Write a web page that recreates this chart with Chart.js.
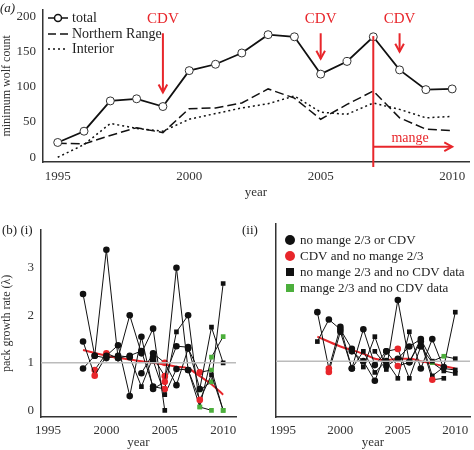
<!DOCTYPE html>
<html>
<head>
<meta charset="utf-8">
<script src="https://cdn.jsdelivr.net/npm/chart.js@4"></script>
<style>
body { margin: 0; background: #fff; }
.box { position: absolute; }
</style>
</head>
<body>
<div class="box" style="left:0;top:0;width:474px;height:200px"><canvas id="top"></canvas></div>
<div class="box" style="left:0;top:220px;width:240px;height:230px"><canvas id="b1"></canvas></div>
<div class="box" style="left:240px;top:220px;width:234px;height:230px"><canvas id="b2"></canvas></div>
<script>
// panel (a)
const years = [1995, 1996, 1997, 1998, 1999, 2000, 2001, 2002, 2003, 2004, 2005, 2006, 2007, 2008, 2009, 2010];
const total = [21, 37, 80, 83, 72, 123, 132, 148, 174, 171, 118, 136, 171, 124, 96, 97];
const northern = [20, 19, 31, 42, 35, 69, 70, 77, 97, 84, 54, 75, 94, 56, 40, 38];
const interior = [0, 18, 48, 41, 37, 54, 62, 70, 76, 87, 64, 61, 77, 68, 56, 58];
const cdvYears = [1999, 2005, 2008];
const cdvTips = [92, 140, 150];
const mangeYear = 2007;

// panel (b): [year, lambda, type]  c=no mange/CDV, r=CDV, s=no CDV data, g=mange no CDV data
const packsI = [
  [[1998,2.45,'c'],[1999,1.15,'c'],[2000,3.38,'c'],[2001,1.1,'c'],[2002,2.0,'c'],[2003,1.2,'c'],[2004,1.72,'c'],[2005,0.0,'s']],
  [[1998,1.45,'c'],[1999,0.73,'r'],[2000,1.15,'c'],[2001,1.37,'c'],[2002,0.3,'c'],[2003,1.55,'c'],[2004,0.45,'c'],[2005,0.6,'r'],[2006,3.0,'c'],[2007,0.85,'c'],[2008,0.22,'r'],[2009,0.75,'s'],[2010,0.0,'g']],
  [[1998,0.88,'c'],[1999,1.15,'c'],[2000,1.1,'c'],[2001,1.15,'c'],[2002,1.12,'c'],[2003,0.5,'s'],[2004,1.12,'c'],[2005,0.72,'r'],[2006,1.35,'c'],[2007,1.33,'c'],[2008,0.45,'c'],[2009,1.75,'s'],[2010,1.0,'s']],
  [[1999,0.85,'r'],[2000,1.2,'r'],[2001,1.1,'c'],[2002,1.15,'c'],[2003,1.25,'c'],[2004,0.5,'c'],[2005,0.45,'r'],[2006,1.65,'s'],[2007,2.0,'c'],[2008,0.07,'g'],[2009,0.0,'g']],
  [[2003,0.78,'c'],[2004,1.2,'c'],[2005,1.0,'r'],[2006,0.53,'c'],[2007,1.3,'c'],[2008,0.8,'r'],[2009,0.85,'g'],[2010,0.0,'g']],
  [[2004,1.05,'c'],[2005,0.33,'s'],[2006,0.87,'c'],[2007,0.85,'c'],[2008,0.07,'g'],[2009,1.12,'g'],[2010,1.55,'g']],
  [[2008,0.43,'g'],[2009,0.6,'g'],[2010,2.67,'s']]
];
const trendI = [[1998,1.27],[2000,1.15],[2002,1.07],[2004,1.0],[2006,0.92],[2007,0.88],[2008,0.72],[2009,0.55],[2010,0.33]];

const packsII = [
  [[1998,2.0,'c'],[1999,0.85,'r'],[2000,1.7,'c'],[2001,0.85,'c'],[2002,1.65,'c'],[2003,0.92,'c'],[2004,1.2,'c'],[2005,0.9,'r'],[2006,0.98,'c'],[2007,1.4,'c'],[2008,0.62,'r'],[2009,0.65,'s']],
  [[1998,1.4,'s'],[1999,1.85,'c'],[2000,1.65,'c'],[2001,1.25,'c'],[2002,0.88,'s'],[2003,1.5,'s'],[2004,0.83,'s'],[2005,2.25,'c'],[2006,0.98,'c'],[2007,1.45,'c'],[2008,1.0,'s'],[2009,1.1,'g'],[2010,1.05,'s']],
  [[1999,0.78,'r'],[2000,1.6,'c'],[2001,0.85,'c'],[2002,1.2,'s'],[2003,0.77,'s'],[2004,1.0,'c'],[2005,0.65,'s'],[2006,1.6,'s'],[2007,0.85,'c'],[2008,1.45,'c'],[2009,0.85,'s'],[2010,0.82,'s']],
  [[2001,1.2,'c'],[2002,1.0,'c'],[2003,0.6,'c'],[2004,1.2,'c'],[2005,1.25,'r'],[2006,0.65,'s'],[2007,1.3,'c'],[2008,0.97,'g'],[2009,0.8,'s'],[2010,0.75,'s']],
  [[2003,1.2,'s'],[2004,0.9,'c'],[2005,1.05,'c'],[2006,1.3,'c'],[2007,1.45,'s'],[2008,0.7,'s'],[2009,0.88,'c'],[2010,2.0,'s']]
];
const trendII = [[1998,1.5],[2000,1.3],[2002,1.15],[2003,1.05],[2004,1.02],[2005,1.05],[2006,1.05],[2007,1.0],[2008,0.95],[2010,0.85]];

const legendLabels = ['no mange 2/3 or CDV', 'CDV and no mange 2/3', 'no mange 2/3 and no CDV data', 'mange 2/3 and no CDV data'];
const legendTypes = ['c', 'r', 's', 'g'];

const FONT = 'Liberation Serif';
const RED = '#e8262b';
const typeColor = { c: '#111', r: RED, s: '#111', g: '#4caf3c' };
const typeStyle = { c: 'circle', r: 'circle', s: 'rect', g: 'rect' };

Chart.defaults.font.family = FONT;
Chart.defaults.color = '#333';
Chart.defaults.animation = false;

function arrow(ctx, x1, y1, x2, y2) {
  ctx.beginPath(); ctx.moveTo(x1, y1); ctx.lineTo(x2, y2); ctx.stroke();
  const a = Math.atan2(y2 - y1, x2 - x1), h = 9;
  ctx.beginPath();
  ctx.moveTo(x2 - h * Math.cos(a - 0.5), y2 - h * Math.sin(a - 0.5));
  ctx.lineTo(x2, y2);
  ctx.lineTo(x2 - h * Math.cos(a + 0.5), y2 - h * Math.sin(a + 0.5));
  ctx.stroke();
}

const topPlugin = {
  id: 'topNotes',
  afterDatasetsDraw(chart) {
    const { ctx, scales: { x, y } } = chart;
    ctx.save();
    ctx.strokeStyle = RED; ctx.fillStyle = RED; ctx.lineWidth = 2;
    ctx.font = '15px ' + FONT; ctx.textAlign = 'center';
    cdvYears.forEach((yr, i) => {
      ctx.fillText('CDV', x.getPixelForValue(yr), y.getPixelForValue(190));
      arrow(ctx, x.getPixelForValue(yr), y.getPixelForValue(176), x.getPixelForValue(yr), y.getPixelForValue(cdvTips[i]));
    });
    const mx = x.getPixelForValue(mangeYear);
    ctx.beginPath(); ctx.moveTo(mx, y.getPixelForValue(172)); ctx.lineTo(mx, y.bottom + 5); ctx.stroke();
    arrow(ctx, mx, y.getPixelForValue(15), x.getPixelForValue(2010), y.getPixelForValue(15));
    ctx.font = '14px ' + FONT;
    ctx.fillText('mange', x.getPixelForValue(2008.4), y.getPixelForValue(22));
    // legend
    ctx.fillStyle = '#222'; ctx.strokeStyle = '#111'; ctx.lineWidth = 1.5;
    ctx.textAlign = 'left'; ctx.font = '14px ' + FONT;
    const lx = 48, ly = [18, 34, 49];
    const dashes = [[], [8, 4], [2, 3]];
    ['total', 'Northern Range', 'Interior'].forEach((t, i) => {
      ctx.setLineDash(dashes[i]);
      ctx.beginPath(); ctx.moveTo(lx, ly[i]); ctx.lineTo(lx + 20, ly[i]); ctx.stroke();
      ctx.setLineDash([]);
      ctx.fillText(t, lx + 24, ly[i] + 4);
    });
    ctx.beginPath(); ctx.arc(lx + 10, ly[0], 3.5, 0, 2 * Math.PI); ctx.fillStyle = '#fff'; ctx.fill(); ctx.stroke();
    ctx.fillStyle = '#222'; ctx.font = 'italic 13px ' + FONT;
    ctx.fillText('(a)', 0, 12);
    ctx.restore();
  }
};

const plain = v => String(v);

new Chart(document.getElementById('top'), {
  type: 'line',
  data: {
    labels: years,
    datasets: [
      { data: years.map((yr, i) => ({ x: yr, y: total[i] })), borderColor: '#111', borderWidth: 1.8,
        pointRadius: 4, pointBackgroundColor: '#fff', pointBorderColor: '#333', pointBorderWidth: 1 },
      { data: years.map((yr, i) => ({ x: yr, y: northern[i] })), borderColor: '#111', borderWidth: 1.5, borderDash: [9, 4], pointRadius: 0 },
      { data: years.map((yr, i) => ({ x: yr, y: interior[i] })), borderColor: '#111', borderWidth: 1.5, borderDash: [2, 3], pointRadius: 0 }
    ]
  },
  options: {
    responsive: true, maintainAspectRatio: false,
    layout: { padding: 0 },
    plugins: { legend: { display: false }, tooltip: { enabled: false } },
    scales: {
      x: { type: 'linear', min: 1994.44, max: 2010.64, afterFit: s => { s.height = 38; },
        afterBuildTicks: s => { s.ticks = [1995, 2000, 2005, 2010].map(v => ({ value: v })); },
        grid: { display: false, drawTicks: true, tickLength: 5, color: '#333' }, border: { color: '#333', width: 1.5 },
        ticks: { font: { size: 13 }, padding: 2, callback: plain },
        title: { display: true, text: 'year', font: { size: 13 }, padding: 0 } },
      y: { min: -6.7, max: 209.3, afterFit: s => { s.width = 43; },
        afterBuildTicks: s => { s.ticks = [0, 50, 100, 150, 200].map(v => ({ value: v })); },
        grid: { display: false, tickLength: 5 }, border: { color: '#333', width: 1.5 },
        ticks: { font: { size: 13 }, padding: 2, callback: plain },
        title: { display: true, text: 'minimum wolf count', font: { size: 12 }, padding: 0 } }
    }
  },
  plugins: [topPlugin]
});

function packDatasets(packs, trend, xmin, xmax) {
  const ds = [{ data: [{ x: xmin, y: 1 }, { x: xmax, y: 1 }], borderColor: '#bbb', borderWidth: 1.5, pointRadius: 0 }];
  packs.forEach(p => ds.push({
    data: p.map(d => ({ x: d[0], y: d[1] })), borderColor: '#111', borderWidth: 1,
    pointStyle: p.map(d => typeStyle[d[2]]), pointRadius: 3.3,
    pointBackgroundColor: p.map(d => typeColor[d[2]]), pointBorderColor: p.map(d => typeColor[d[2]]), pointBorderWidth: 0
  }));
  ds.push({ data: trend.map(d => ({ x: d[0], y: d[1] })), borderColor: RED, borderWidth: 2, pointRadius: 0, cubicInterpolationMode: 'monotone' });
  return ds;
}

function panelPlugin(title, showLegend) {
  return {
    id: 'panel' + title,
    afterDatasetsDraw(chart) {
      const { ctx } = chart;
      ctx.save();
      ctx.fillStyle = '#222'; ctx.font = '13px ' + FONT; ctx.textAlign = 'left';
      ctx.fillText(title, 2, 14);
      if (showLegend) {
        legendLabels.forEach((t, i) => {
          const yy = 20 + i * 16, xx = 50, tp = legendTypes[i];
          ctx.fillStyle = typeColor[tp];
          ctx.beginPath();
          if (typeStyle[tp] === 'circle') ctx.arc(xx, yy, 5, 0, 2 * Math.PI); else ctx.rect(xx - 4, yy - 4, 8, 8);
          ctx.fill();
          ctx.fillStyle = '#222';
          ctx.fillText(t, xx + 10, yy + 4);
        });
      }
      ctx.restore();
    }
  };
}

function bottomChart(id, packs, trend, xmin, xmax, yLabels, title) {
  new Chart(document.getElementById(id), {
    type: 'line',
    data: { datasets: packDatasets(packs, trend, xmin, xmax) },
    options: {
      responsive: true, maintainAspectRatio: false,
      layout: { padding: { right: 3 } },
      plugins: { legend: { display: false }, tooltip: { enabled: false } },
      scales: {
        x: { type: 'linear', min: xmin, max: xmax, afterFit: s => { s.height = 33; },
          afterBuildTicks: s => { s.ticks = [1995, 2000, 2005, 2010].map(v => ({ value: v })); },
          grid: { display: false, tickLength: 5 }, border: { color: '#333', width: 1.5 },
          ticks: { font: { size: 13 }, padding: 1, callback: plain },
          title: { display: true, text: 'year', font: { size: 13 }, padding: 0 } },
        y: { min: -0.14, max: 3.8, afterFit: s => { s.width = yLabels ? 41 : 36; },
          afterBuildTicks: s => { s.ticks = [0, 1, 2, 3].map(v => ({ value: v })); },
          grid: { display: false, tickLength: 5 }, border: { color: '#333', width: 1.5 },
          ticks: { display: !!yLabels, font: { size: 13 }, padding: 2, callback: plain },
          title: { display: !!yLabels, text: 'pack growth rate (λ)', font: { size: 12 }, padding: 0 } }
      }
    },
    plugins: [panelPlugin(title, !yLabels)]
  });
}

bottomChart('b1', packsI, trendI, 1994.4, 2011.1, true, '(b) (i)');
bottomChart('b2', packsII, trendII, 1994.4, 2011.28, false, '(ii)');
</script>
</body>
</html>
